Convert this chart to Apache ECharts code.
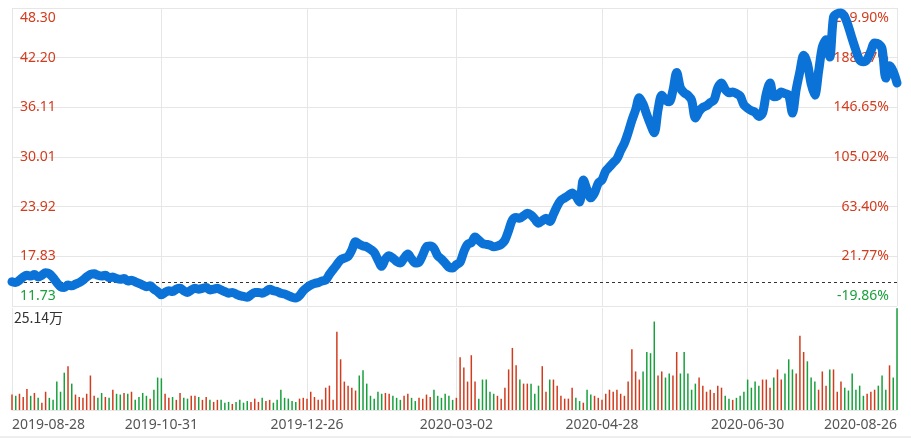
<!DOCTYPE html>
<html><head><meta charset="utf-8">
<script src="https://cdn.jsdelivr.net/npm/echarts@6/dist/echarts.min.js"></script>
<style>html,body{margin:0;padding:0;background:#fff}#c{width:911px;height:446px}</style>
</head><body><div id="c"></div>
<script>
const prices = [
14.7,14.6,14.9,15.3,15.5,15.4,15.6,15.3,15.5,15.8,
15.7,15.2,14.6,14.1,14.0,14.3,14.2,14.4,14.6,14.9,
15.3,15.6,15.7,15.5,15.4,15.5,15.2,15.3,15.1,15.0,
15.1,14.8,14.9,14.7,14.5,14.3,14.1,14.2,13.8,13.5,
13.1,13.4,13.6,13.5,13.8,13.9,13.6,13.4,13.7,13.9,
13.8,13.9,14.0,13.7,13.8,13.9,13.7,13.5,13.3,13.4,
13.2,13.0,12.9,12.8,13.1,13.4,13.4,13.3,13.5,13.8,
13.6,13.5,13.3,13.2,13.0,12.8,12.7,13.0,13.6,14.0,
14.3,14.5,14.6,14.8,14.9,15.6,16.2,16.8,17.4,17.6,
17.8,18.6,19.6,19.3,19.1,19.0,18.7,18.3,17.4,16.6,
17.5,17.9,17.6,17.2,17.0,17.6,18.1,17.5,17.0,17.1,
18.0,19.0,19.1,18.8,17.9,17.5,17.0,16.5,16.4,16.8,
17.1,18.4,19.3,19.5,20.2,19.8,19.4,19.3,19.2,19.0,
19.1,19.3,19.8,21.0,22.3,22.6,22.5,22.8,23.1,22.9,
22.4,21.9,22.2,22.5,22.1,23.0,24.0,24.7,25.0,25.3,
25.6,25.2,24.5,27.2,26.0,25.0,25.6,26.8,27.2,28.3,
28.8,29.3,29.8,30.8,31.7,33.0,34.5,35.8,37.3,36.5,
35.2,34.0,33.0,35.8,37.6,37.0,36.8,38.2,40.4,38.5,
37.9,37.6,37.0,34.8,35.6,36.1,36.3,36.7,37.0,38.5,
39.1,38.3,37.9,38.0,37.8,37.5,36.4,36.0,35.7,35.5,
35.0,35.4,37.8,39.1,37.4,37.5,38.0,37.8,37.6,35.4,
38.3,40.5,42.5,41.5,39.0,37.6,40.5,43.5,44.4,42.3,
47.2,47.6,47.7,47.2,46.0,44.5,43.1,41.9,41.7,42.0,
43.0,44.0,43.9,43.3,39.7,41.2,40.5,39.1];
const volumes = [
3.8,3.5,4.0,3.2,5.2,3.5,4.2,3.0,1.8,4.5,
3.0,2.5,7.0,4.5,9.2,10.8,6.5,3.8,3.2,3.0,
4.0,8.5,3.5,3.0,4.2,3.2,3.0,5.0,4.0,3.8,
4.2,4.0,4.5,2.5,3.2,4.2,3.5,2.8,5.0,8.0,
7.8,4.0,3.0,3.2,2.5,4.2,3.0,2.8,3.5,3.5,
3.2,2.5,3.2,2.5,2.0,2.5,2.5,1.8,2.0,1.5,
2.0,2.5,1.8,2.2,2.0,2.8,2.0,3.0,2.2,2.5,
1.8,2.5,5.0,3.0,2.8,2.2,2.0,2.8,3.0,2.8,
4.5,3.2,2.5,2.6,5.5,6.0,2.5,19.3,12.5,7.0,
6.0,5.5,4.8,8.5,9.8,6.5,3.5,2.8,4.5,4.0,
4.2,4.0,3.5,3.0,2.5,3.5,4.0,3.0,2.2,3.0,
2.8,3.8,3.2,5.0,3.5,3.0,4.0,3.5,2.5,3.0,
13.0,10.5,7.0,13.5,7.0,2.8,7.5,7.5,4.5,4.0,
3.5,2.8,5.5,10.0,15.3,11.0,7.5,6.5,6.5,6.5,
4.0,6.0,10.8,4.5,7.5,7.5,6.0,3.5,2.8,2.8,
5.5,3.0,2.2,1.8,5.0,3.8,3.5,3.0,2.5,4.0,
5.0,4.5,5.0,4.0,3.5,7.0,15.0,9.5,7.5,9.5,
14.3,14.0,21.8,8.5,9.5,8.0,9.0,8.5,14.3,9.0,
14.3,9.0,5.0,6.5,8.0,6.0,4.5,5.0,4.2,6.0,
5.5,3.5,2.8,2.5,3.0,3.5,4.5,7.5,5.5,7.0,
6.0,7.5,7.5,5.5,8.0,10.0,7.5,9.0,12.5,10.0,
9.0,18.3,14.3,12.0,8.0,7.0,5.0,9.5,6.0,10.0,
10.0,4.5,7.0,5.5,4.8,9.0,5.0,6.0,3.5,4.0,
4.5,5.0,6.0,8.5,5.0,11.0,8.0,25.1];
const dateLabels = {0:'2019-08-28',40:'2019-10-31',79:'2019-12-26',119:'2020-03-02',158:'2020-04-28',197:'2020-06-30',237:'2020-08-26'};
const priceTicks = [11.73,17.83,23.92,30.01,36.11,42.20,48.30];
const pctTicks = ['-19.86%','21.77%','63.40%','105.02%','146.65%','188.27%','229.90%'];
const basePrice = 14.64;
const volMaxLabel = '25.14万';

const RED='#d23c1e', GREEN='#18a03c';
const cats = prices.map((_,i)=>String(i));
const volData = volumes.map((v,i)=>({value:v,itemStyle:{color:(i===0||prices[i]>=prices[i-1])?RED:GREEN}}));
const pMin=priceTicks[0], pMax=priceTicks[6], pInt=(pMax-pMin)/6;
function idx(v){return Math.round((v-pMin)/pInt);}
const tickIntervalFn=(i)=>dateLabels.hasOwnProperty(i);
const chart=echarts.init(document.getElementById('c'));
chart.setOption({
  animation:false,
  grid:[{left:12,right:14,top:8,height:298},{left:12,right:14,top:308,height:102}],
  xAxis:[
    {type:'category',data:cats,gridIndex:0,boundaryGap:false,axisLine:{show:false},axisTick:{show:false},axisLabel:{show:false},
     splitLine:{show:true,interval:tickIntervalFn,lineStyle:{color:'#e6e6e6'}}},
    {type:'category',data:cats,gridIndex:1,boundaryGap:false,axisLine:{lineStyle:{color:'#e6e6e6'}},axisTick:{show:false},
     splitLine:{show:true,interval:tickIntervalFn,lineStyle:{color:'#e6e6e6'}},
     axisLabel:{interval:tickIntervalFn,formatter:(v)=>dateLabels[+v]||'',color:'#555',fontSize:14,fontFamily:'Microsoft YaHei, Noto Sans, sans-serif',margin:8,
       alignMinLabel:'left',alignMaxLabel:'right'}}
  ],
  yAxis:[
    {type:'value',gridIndex:0,min:pMin,max:pMax,interval:pInt,position:'left',axisLine:{show:false},axisTick:{show:false},
     splitLine:{lineStyle:{color:'#e6e6e6'}},
     axisLabel:{inside:true,fontSize:14,fontFamily:'Noto Sans, sans-serif',
       formatter:(v)=>{const k=idx(v);const t=priceTicks[k].toFixed(2);return k===0?'{g|'+t+'}':(k===6?'{t|'+t+'}':'{r|'+t+'}');},
       rich:{r:{color:RED,fontSize:14},t:{color:RED,fontSize:14,padding:[20,0,0,0]},g:{color:GREEN,fontSize:14,padding:[0,0,20,0]}}}},
    {type:'value',gridIndex:0,min:pMin,max:pMax,interval:pInt,position:'right',axisLine:{show:false},axisTick:{show:false},splitLine:{show:false},
     axisLabel:{inside:true,fontSize:14,fontFamily:'Noto Sans, sans-serif',
       formatter:(v)=>{const k=idx(v);const t=pctTicks[k];return k===0?'{g|'+t+'}':(k===6?'{t|'+t+'}':'{r|'+t+'}');},
       rich:{r:{color:RED,fontSize:14},t:{color:RED,fontSize:14,padding:[20,0,0,0]},g:{color:GREEN,fontSize:14,padding:[0,0,20,0]}}}},
    {type:'value',gridIndex:1,min:0,max:25.14,axisLine:{show:false},axisTick:{show:false},axisLabel:{show:false},splitLine:{show:false}}
  ],
  series:[
    {type:'line',xAxisIndex:0,yAxisIndex:0,data:prices,showSymbol:false,smooth:0.3,lineStyle:{color:'#0b72d8',width:9,cap:'round',join:'round'},z:3,
     markLine:{silent:true,symbol:'none',label:{show:false},lineStyle:{color:'#333',type:[3,3],width:1},data:[{yAxis:basePrice}],z:2}},
    {type:'bar',xAxisIndex:1,yAxisIndex:2,data:volData,barWidth:1.5}
  ],
  graphic:[
    {type:'text',left:14,top:311,style:{text:volMaxLabel,fill:'#333',font:'14px "Noto Sans CJK SC", sans-serif'}},
    {type:'line',shape:{x1:0,y1:437,x2:911,y2:437},style:{stroke:'#dcdcdc',lineWidth:1}}
  ]
});
</script></body></html>
